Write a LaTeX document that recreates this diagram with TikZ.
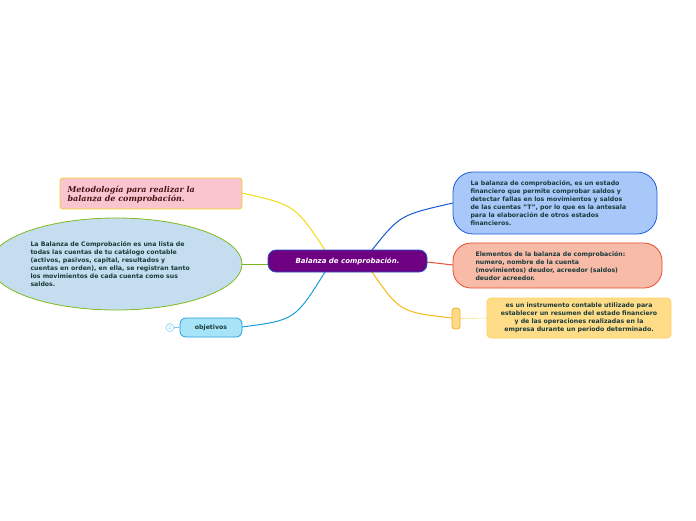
\documentclass[tikz,border=0pt]{standalone}
\usepackage{fontspec}
\usetikzlibrary{shapes.geometric}
\setmainfont{DejaVu Sans}
\newfontfamily\serifb{DejaVu Serif}
\definecolor{tx}{HTML}{1A3A3A}
\begin{document}
\begin{tikzpicture}[x=1pt,y=-1pt,
 txt/.style={font=\bfseries\fontsize{6.2}{8}\selectfont, align=left},
 box/.style={draw, line width=0.8pt, inner sep=0pt},
 conn/.style={line width=1pt}]
\useasboundingbox (0,0) rectangle (696,520);
% connectors
\coordinate (c1) at (372,250);\coordinate (c2) at (427,262);\coordinate (c3) at (372,272);
\coordinate (c4) at (325,250);\coordinate (c5) at (268,264);\coordinate (c6) at (325,272);
\draw[conn,color={rgb,255:red,20;green,90;blue,210}] (c1) .. controls (400,215) .. (453,203);
\draw[conn,color={rgb,255:red,230;green,80;blue,50}] (c2) .. controls (440,264) .. (453,265);
\draw[conn,color={rgb,255:red,245;green,185;blue,20}] (c3) .. controls (400,312) .. (452,318);
\draw[conn,color={rgb,255:red,240;green,220;blue,20}] (c4) .. controls (295,205) .. (242,193);
\draw[conn,color={rgb,255:red,120;green,180;blue,30}] (c5) -- (242,264);
\draw[conn,color={rgb,255:red,20;green,160;blue,220}] (c6) .. controls (295,320) .. (242,327);
% nodes
\node[box, rounded corners=8pt, fill={rgb,255:red,110;green,0;blue,130}, draw={rgb,255:red,40;green,80;blue,200}, minimum width=159pt, minimum height=22pt, text=white, font=\bfseries\itshape\fontsize{7}{8}\selectfont] (cen) at (347.5,261) {Balanza de comprobación.};
\node[box, rounded corners=20pt, fill={rgb,255:red,168;green,200;blue,250}, draw={rgb,255:red,30;green,95;blue,216}, minimum width=204pt, minimum height=62pt] (blue) at (555,203) {};
\node[txt, text=tx, anchor=north west] at (467,177) {La balanza de comprobación, es un estado\\financiero que permite comprobar saldos y\\detectar fallas en los movimientos y saldos\\de las cuentas "T", por lo que es la antesala\\para la elaboración de otros estados\\financieros.};
\node[box, rounded corners=18pt, fill={rgb,255:red,248;green,187;blue,168}, draw={rgb,255:red,232;green,74;blue,42}, minimum width=209pt, minimum height=45pt] (sal) at (557.5,265.5) {};
\node[txt, text=tx, anchor=north west] at (472,248) {Elementos de la balanza de comprobación:\\numero, nombre de la cuenta\\(movimientos) deudor, acreedor (saldos)\\deudor acreedor.};
\node[box, rounded corners=3pt, fill={rgb,255:red,255;green,217;blue,138}, draw={rgb,255:red,240;green,176;blue,32}, minimum width=8pt, minimum height=21pt] (mk) at (456,318.5) {};
\node[box, rounded corners=4pt, fill={rgb,255:red,255;green,221;blue,136}, draw={rgb,255:red,255;green,208;blue,96}, minimum width=184pt, minimum height=40pt, txt, text=tx, align=center] (yel) at (579,318) {es un instrumento contable utilizado para\\establecer un resumen del estado financiero\\y de las operaciones realizadas en la\\empresa durante un periodo determinado.};
\draw[line width=0.6pt,color={rgb,255:red,255;green,220;blue,130}] (mk.east) -- (yel.west);
\node[box, rounded corners=3pt, fill={rgb,255:red,249;green,198;blue,208}, draw={rgb,255:red,240;green,208;blue,32}, minimum width=182pt, minimum height=31pt] (pink) at (151,193.5) {};
\node[anchor=north west, align=left, text={rgb,255:red,70;green,20;blue,20}, font=\serifb\bfseries\itshape\fontsize{8}{9}\selectfont] at (64,183) {Metodología para realizar la\\balanza de comprobación.};
\node[box, ellipse, fill={rgb,255:red,196;green,222;blue,240}, draw={rgb,255:red,130;green,185;blue,30}, minimum width=252pt, minimum height=92pt] (ell) at (116,264) {};
\node[txt, text=tx, anchor=north west] at (27,238) {La Balanza de Comprobación es una lista de\\todas las cuentas de tu catálogo contable\\(activos, pasivos, capital, resultados y\\cuentas en orden), en ella, se registran tanto\\los movimientos de cada cuenta como sus\\saldos.};
\node[box, rounded corners=6pt, fill={rgb,255:red,168;green,228;blue,248}, draw={rgb,255:red,32;green,160;blue,224}, minimum width=62pt, minimum height=19pt, txt, text=tx] (obj) at (211,327.5) {objetivos};
\node[circle, draw={rgb,255:red,120;green,200;blue,240}, line width=0.5pt, inner sep=0pt, minimum size=8pt, text={rgb,255:red,120;green,200;blue,240}, font=\fontsize{5}{5}\selectfont] (n2) at (170,327.5) {2};
\draw[line width=0.5pt,color={rgb,255:red,120;green,200;blue,240}] (n2) -- (obj);
\end{tikzpicture}
\end{document}
